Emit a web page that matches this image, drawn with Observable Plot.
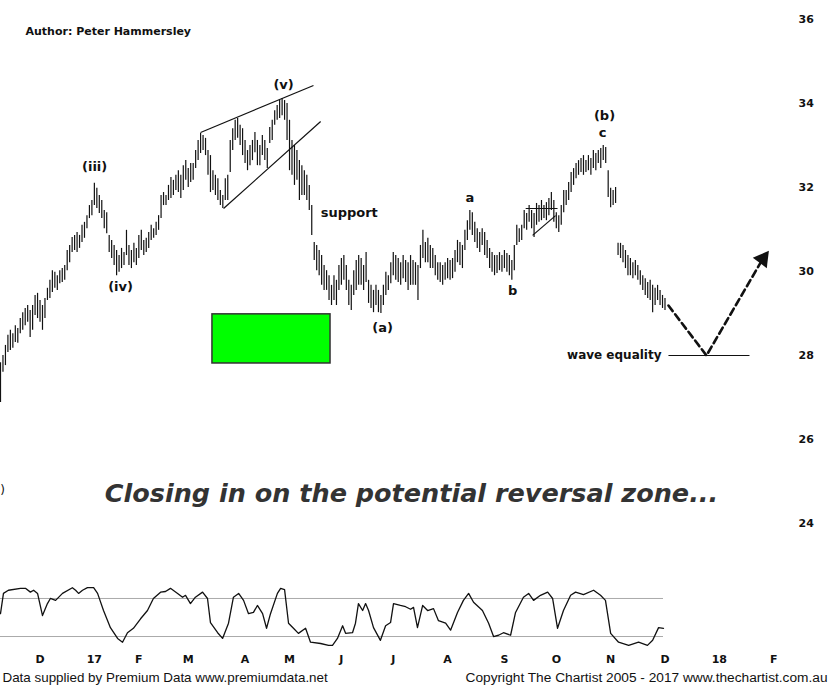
<!DOCTYPE html>
<html><head><meta charset="utf-8">
<script src="https://cdn.jsdelivr.net/npm/d3@7"></script>
<script src="https://cdn.jsdelivr.net/npm/@observablehq/plot@0.6"></script>
<style>
body{margin:0;background:#fff;}
#chart{width:832px;height:690px;overflow:hidden;background:#fff;}
#chart svg{display:block;}
</style></head><body><div id="chart"></div>
<script>
// ---- Price bars (one per trading day, index 0 = early Nov 2016) ----
const barHigh = [
27.83,28.00,28.24,28.48,28.60,28.52,28.71,28.64,28.88,29.02,
29.12,29.19,29.07,29.19,29.43,29.48,29.31,29.19,29.36,29.60,
29.79,30.02,29.98,29.90,30.02,30.07,30.14,30.50,30.62,30.81,
30.86,30.93,30.86,31.10,31.17,31.33,31.57,31.69,32.10,31.98,
31.81,31.69,31.45,31.40,30.86,30.74,30.62,30.50,30.38,30.55,
30.45,30.98,30.62,30.50,30.67,30.55,30.86,30.98,30.74,30.79,
30.93,31.10,31.02,31.17,31.33,31.81,31.88,31.81,32.05,32.24,
32.17,32.29,32.40,32.29,32.52,32.64,32.45,32.57,32.57,32.88,
33.12,33.29,33.24,33.17,32.88,32.76,32.40,32.29,32.21,31.93,
31.81,32.21,32.29,33.12,33.40,33.60,33.64,33.48,33.40,33.12,
32.88,33.00,33.12,33.31,33.12,33.00,33.24,33.12,32.93,33.43,
33.60,33.83,33.95,34.07,34.12,34.07,34.00,33.60,33.12,33.00,
32.88,32.64,32.52,32.40,32.29,32.05,31.57,30.69,30.62,30.50,
30.38,30.14,30.02,29.90,29.67,29.90,29.79,30.14,30.31,30.38,
30.14,29.79,29.67,30.02,30.26,30.38,30.31,30.14,30.45,29.79,
29.67,29.55,29.67,29.55,29.43,29.67,29.98,29.90,30.21,30.45,
30.38,30.31,30.21,30.38,30.26,30.21,30.38,30.26,30.21,30.14,
30.62,30.98,30.69,30.79,30.62,30.55,30.38,30.21,30.21,30.14,
30.21,30.31,30.26,30.31,30.50,30.74,30.69,30.62,30.98,31.21,
31.45,31.40,31.17,31.02,30.93,31.02,30.93,30.74,30.55,30.45,
30.38,30.38,30.45,30.38,30.50,30.43,30.38,30.26,30.62,31.10,
31.02,31.10,31.45,31.38,31.57,31.45,31.38,31.62,31.57,31.69,
31.57,31.64,31.74,31.88,31.69,31.40,31.33,31.57,31.93,31.93,
32.12,32.36,32.45,32.57,32.64,32.69,32.76,32.64,32.76,32.69,
32.88,32.81,32.88,32.93,33.00,32.95,32.40,31.98,31.93,32.00,
30.67,30.67,30.62,30.50,30.38,30.31,30.21,30.26,30.14,30.02,
29.90,29.83,29.74,29.79,29.67,29.60,29.67,29.55,29.43,29.36];
const barLow = [
26.88,27.60,27.76,28.07,28.12,28.17,28.31,28.29,28.52,28.60,
28.71,28.79,28.43,28.60,28.95,28.88,28.79,28.60,28.88,29.31,
29.36,29.50,29.60,29.55,29.71,29.74,29.79,30.02,30.21,30.45,
30.50,30.45,30.55,30.69,30.79,31.02,31.26,31.33,31.57,31.50,
31.38,31.26,31.02,30.90,30.45,30.31,30.14,29.90,29.98,30.07,
30.14,30.38,30.14,30.07,30.21,30.14,30.31,30.50,30.38,30.45,
30.55,30.74,30.79,30.86,30.98,31.26,31.57,31.57,31.69,31.74,
31.81,31.93,31.88,31.74,31.93,32.17,32.00,32.12,32.17,32.45,
32.64,32.81,32.88,32.76,32.29,31.88,31.93,31.81,31.69,31.57,
31.50,31.69,31.69,32.36,32.88,33.12,33.17,33.00,32.76,32.57,
32.40,32.52,32.64,32.83,32.52,32.52,32.76,32.64,32.45,33.05,
33.12,33.48,33.60,33.64,33.71,33.60,33.12,32.40,32.29,32.05,
32.17,31.69,31.81,31.81,31.69,31.45,30.86,30.26,30.02,29.90,
29.67,29.55,29.55,29.31,29.19,29.31,29.19,29.55,29.67,29.79,
29.55,29.19,29.07,29.43,29.55,29.67,29.67,29.55,29.74,29.24,
29.12,29.02,29.19,29.02,29.00,29.19,29.43,29.55,29.71,29.90,
29.79,29.74,29.67,29.83,29.74,29.55,29.67,29.67,29.67,29.31,
30.07,30.31,30.21,30.21,30.07,30.07,29.90,29.79,29.74,29.67,
29.79,29.83,29.79,29.83,29.98,30.21,30.14,30.07,30.50,30.74,
30.98,30.86,30.69,30.55,30.45,30.62,30.38,30.31,30.07,29.98,
29.90,29.95,30.02,29.98,30.07,29.98,29.90,29.79,30.02,30.62,
30.69,30.74,31.02,30.98,31.17,31.02,30.81,31.10,31.17,31.21,
31.26,31.21,31.33,31.45,31.17,31.02,30.93,31.10,31.40,31.57,
31.69,31.88,32.05,32.21,32.29,32.36,32.29,32.36,32.40,32.29,
32.45,32.40,32.57,32.45,32.64,32.57,31.76,31.52,31.57,31.62,
30.38,30.31,30.21,30.07,29.90,29.90,29.83,29.90,29.79,29.67,
29.55,29.43,29.36,29.31,29.02,29.19,29.31,29.19,29.12,29.07];

// ---- Axis ticks ----
const monthTickIndex = [16,38,56,76,99,117,138,159,181,204,225,247,269,291,313];
const monthLabels = ["D","17","F","M","A","M","J","J","A","S","O","N","D","18","F"];
const priceTicks = [24,26,28,30,32,34,36];

// ---- Oscillator (0-100) ----
const oscX = [
0,1.2,3.2,8.1,10.1,12.1,13.4,15.0,17.0,19.0,
20.2,22.3,25.1,29.1,30.4,31.6,33.2,35.2,37.7,39.3,
41.7,44.5,47.4,49.4,51.4,53.8,56.7,59.5,61.9,64.8,
66.8,68.8,71.7,73.7,74.9,76.9,78.9,81.8,83.8,85.0,
87.9,89.9,92.3,94.3,96.4,98.4,100.4,102.4,104.0,106.1,
107.7,109.3,112.1,113.4,115.0,116.6,118.6,120.6,123.5,125.5,
129.6,132.8,134.4,136.4,138.5,139.7,142.5,143.7,144.9,146.6,
147.8,149.0,151.0,153.8,155.9,157.9,159.1,161.9,164.0,166.0,
167.2,168.8,170.9,172.9,175.3,177.3,180.2,182.2,185.0,187.4,
189.5,191.5,195.1,197.6,199.6,201.6,203.6,206.5,208.5,211.7,
213.8,215.8,218.6,221.5,223.5,225.5,227.9,230.8,232.8,236.0,
240.1,242.9,244.9,247.0,250.2,254.3,258.3,261.9,264.0,266.4,
268.4];
const oscV = [
56,88,93,96,96,90,93,88,53,72,
80,77,88,97,93,88,93,97,97,88,
61,34,17,11,26,33,48,61,80,90,
91,96,88,82,85,72,82,90,80,42,
26,17,41,82,88,77,56,58,69,56,
33,56,88,96,94,41,33,25,33,11,
9,6,6,17,37,25,26,41,72,61,
72,61,34,14,37,42,72,69,67,63,
66,34,69,61,64,45,41,30,58,77,
88,74,61,41,20,22,26,22,58,82,
88,77,85,90,80,33,61,85,90,86,
93,85,77,25,11,6,11,6,14,34,
33];
const oscLevels = [20, 80];
const oscLevelEnd = 268.4;

// ---- Annotations ----
const waveLabels = ["(iii)","(iv)","(v)","(a)","a","b","(b)","c"];
const waveX      = [38.1, 48.6, 114.6, 154.7, 190, 207.3, 244.5, 243.7];
const waveY      = [32.50, 29.64, 34.45, 28.67, 31.76, 29.55, 33.71, 33.31];
const trendX1 = [81, 90.3, 212.6, 215.4, 270.4];
const trendY1 = [33.31, 31.50, 31.50, 30.86, 28.0];
const trendX2 = [126.7, 129.6, 225.5, 224.7, 303.2];
const trendY2 = [34.43, 33.57, 31.50, 31.33, 28.0];
const projX = [270.4, 285.8, 308.6];
const projY = [29.19, 28.0, 30.30];
const zone = {x1: 85.8, x2: 133.6, y1: 27.81, y2: 28.98};

const bars = barHigh.map((h, i) => ({i, high: h, low: barLow[i]}));
const labels = waveLabels.map((t, k) => ({t, x: waveX[k], y: waveY[k]}));
const trends = trendX1.map((x1, k) => ({x1, y1: trendY1[k], x2: trendX2[k], y2: trendY2[k]}));
const proj = projX.map((x, k) => ({x, y: projY[k]}));
const osc = oscX.map((x, k) => ({x, v: oscV[k]}));
const levels = oscLevels.map(v => ({v, x1: 0, x2: oscLevelEnd}));
const monthMap = new Map(monthTickIndex.map((t, k) => [t, monthLabels[k]]));

const F = "DejaVu Sans, Verdana, sans-serif";
const INK = "#111";

const main = Plot.plot({
  width: 832, height: 570,
  marginTop: 0, marginLeft: 0, marginRight: 34, marginBottom: 0,
  style: {background: "#fff", fontFamily: F},
  x: {domain: [0, 336], range: [0, 830], axis: null},
  y: {domain: [24, 36], range: [523, 19]},
  marks: [
    Plot.rect([zone], {x1: "x1", x2: "x2", y1: "y1", y2: "y2", fill: "#00ff00", stroke: "#333", strokeWidth: 1.5}),
    Plot.ruleX(bars, {x: "i", y1: "low", y2: "high", stroke: INK, strokeWidth: 1.2}),
    Plot.link(trends, {x1: "x1", y1: "y1", x2: "x2", y2: "y2", stroke: INK, strokeWidth: 1.2}),
    Plot.line(proj, {x: "x", y: "y", stroke: INK, strokeWidth: 2.6, strokeDasharray: "7,4"}),
    Plot.dot(proj.slice(-1), {x: "x", y: "y", symbol: "triangle", r: 6.5, fill: INK, stroke: "none", rotate: 37}),
    Plot.text(labels, {x: "x", y: "y", text: "t", fontFamily: F, fontWeight: "bold", fontSize: 13, fill: INK, lineAnchor: "middle"}),
    Plot.text(["support"], {x: 129.6, y: 31.40, text: d => d, fontFamily: F, fontWeight: "bold", fontSize: 13, fill: INK, textAnchor: "start", lineAnchor: "middle"}),
    Plot.text(["wave equality"], {x: 267.6, y: 28.0, text: d => d, fontFamily: F, fontWeight: "bold", fontSize: 12, fill: INK, textAnchor: "end", lineAnchor: "middle"}),
    Plot.text([")"], {x: 0.8, y: 24.79, text: d => d, fontFamily: F, fontSize: 12, fill: INK, lineAnchor: "middle"}),
    Plot.axisY({anchor: "right", ticks: priceTicks, tickSize: 0, tickPadding: 0, label: null, fontFamily: F, fontWeight: "bold", fontSize: 11, fill: INK}),
    Plot.text(["Author: Peter Hammersley"], {frameAnchor: "top-left", dx: 25, dy: 31, text: d => d, textAnchor: "start", lineAnchor: "middle", fontFamily: F, fontWeight: "bold", fontSize: 11, fill: INK}),
    Plot.text(["Closing in on the potential reversal zone..."], {frameAnchor: "top-left", dx: 411, dy: 493, text: d => d, textAnchor: "middle", lineAnchor: "middle", fontFamily: F, fontWeight: "bold", fontStyle: "italic", fontSize: 25.5, fill: "#333"})
  ]
});

const lower = Plot.plot({
  width: 832, height: 120,
  marginTop: 0, marginLeft: 0, marginRight: 0, marginBottom: 35,
  style: {background: "#fff", fontFamily: F},
  x: {domain: [0, 336], range: [0, 830]},
  y: {domain: [0, 100], range: [78.7, 15.3], axis: null},
  marks: [
    Plot.ruleY(levels, {y: "v", x1: "x1", x2: "x2", stroke: "#aaa", strokeWidth: 1}),
    Plot.line(osc, {x: "x", y: "v", stroke: INK, strokeWidth: 1.3}),
    Plot.axisX({ticks: monthTickIndex, tickFormat: d => monthMap.get(d), tickSize: 0, tickPadding: 0, label: null, fontFamily: F, fontWeight: "bold", fontSize: 11, fill: INK}),
    Plot.text(["Data supplied by Premium Data www.premiumdata.net"], {frameAnchor: "bottom-left", dx: 2, dy: 22, text: d => d, textAnchor: "start", lineAnchor: "middle", fontFamily: "Liberation Sans, Arial, sans-serif", fontSize: 13.4, fill: INK}),
    Plot.text(["Copyright The Chartist 2005 - 2017 www.thechartist.com.au"], {frameAnchor: "bottom-right", dx: -5, dy: 22, text: d => d, textAnchor: "end", lineAnchor: "middle", fontFamily: "Liberation Sans, Arial, sans-serif", fontSize: 13.7, fill: INK})
  ]
});

const host = document.getElementById("chart");
host.appendChild(main);
host.appendChild(lower);
</script>
</body></html>
